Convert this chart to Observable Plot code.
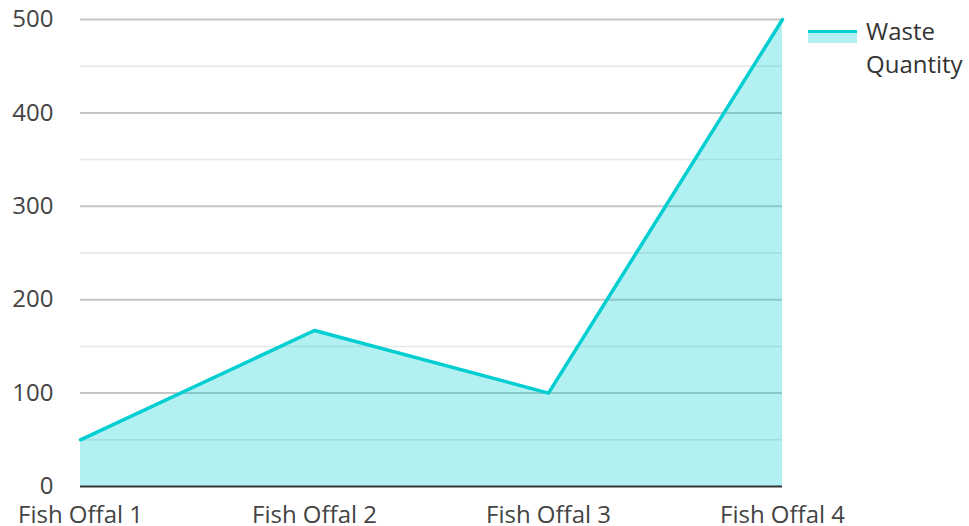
<!DOCTYPE html>
<html><head><meta charset="utf-8">
<script src="https://cdn.jsdelivr.net/npm/d3@7"></script>
<script src="https://cdn.jsdelivr.net/npm/@observablehq/plot@0.6"></script>
<style>
body{margin:0;background:#fff;font-family:"Open Sans",sans-serif;}
#wrap{position:relative;width:969px;height:526px;overflow:hidden;}
#legend{position:absolute;left:808px;top:14px;display:flex;align-items:flex-start;}
#swatch{width:49px;height:10px;border-top:3px solid #00CED1;background:rgba(0,206,209,0.3);margin-top:16px;}
#ltext{margin-left:9px;font-size:24px;line-height:33px;color:#333;}
</style></head><body><div id="wrap"></div>
<script>
const categories = ["Fish Offal 1", "Fish Offal 2", "Fish Offal 3", "Fish Offal 4"];
const wasteQuantity = [50, 167, 100, 500];
const majorTicks = [0, 100, 200, 300, 400, 500];
const minorTicks = [50, 150, 250, 350, 450];
const seriesName = ["Waste", "Quantity"];

const data = categories.map((c, i) => ({category: c, value: wasteQuantity[i]}));
const color = "#00CED1";

const plot = Plot.plot({
  width: 969, height: 526,
  marginTop: 19, marginBottom: 40, marginLeft: 80, marginRight: 187,
  style: {fontFamily: "'Open Sans', sans-serif", fontSize: "24px", color: "#444", background: "#fff"},
  x: {type: "point", domain: categories, padding: 0, label: null},
  y: {domain: [0, 500], label: null},
  marks: [
    Plot.ruleY(minorTicks, {stroke: "#e6e6e6", strokeWidth: 1.5}),
    Plot.ruleY(majorTicks.filter(d => d > 0), {stroke: "#c6c6c6", strokeWidth: 2}),
    Plot.areaY(data, {x: "category", y: "value", fill: color, fillOpacity: 0.3}),
    Plot.lineY(data, {x: "category", y: "value", stroke: color, strokeWidth: 3.5}),
    Plot.ruleY([0], {stroke: "#333", strokeWidth: 2}),
    Plot.axisY({ticks: majorTicks, tickSize: 0, tickPadding: 27, fontSize: 24, label: null}),
    Plot.axisX({tickSize: 0, tickPadding: 19, fontSize: 24, label: null})
  ]
});
const wrap = document.getElementById("wrap");
wrap.appendChild(plot);
const legend = document.createElement("div");
legend.id = "legend";
legend.innerHTML = `<div id="swatch"></div><div id="ltext">${seriesName.join("<br>")}</div>`;
wrap.appendChild(legend);
</script></body></html>
